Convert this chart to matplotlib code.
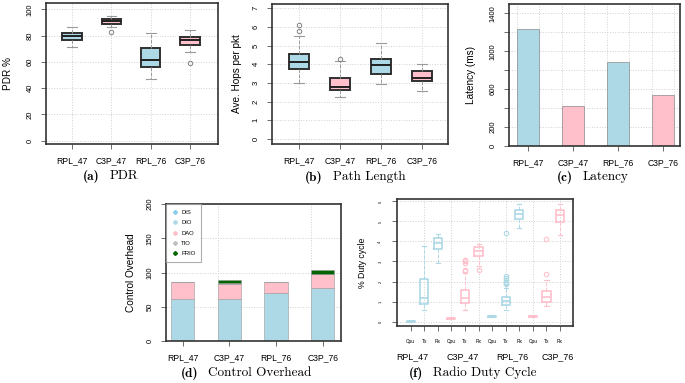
import numpy as np
import matplotlib
matplotlib.use("Agg")
import matplotlib.pyplot as plt
from matplotlib.lines import Line2D

# ---- data ----
protocols = ["RPL_47", "C3P_47", "RPL_76", "C3P_76"]
colors = ["#ADD8E6", "#FFC0CB", "#ADD8E6", "#FFC0CB"]

# (a) PDR %
pdr_lo = [71.0, 86.5, 46.7, 67.2]
pdr_q1 = [76.3, 89.1, 56.1, 72.5]
pdr_med = [79.5, 91.2, 61.6, 77.0]
pdr_q3 = [81.8, 92.4, 70.7, 79.3]
pdr_hi = [86.4, 94.7, 81.6, 84.3]
pdr_out = [[], [83.0], [], [58.8]]

# (b) average hops per packet
hop_lo = [3.00, 2.25, 2.94, 2.58]
hop_q1 = [3.74, 2.62, 3.49, 3.10]
hop_med = [4.14, 2.78, 3.94, 3.24]
hop_q3 = [4.55, 3.24, 4.30, 3.64]
hop_hi = [5.51, 4.20, 5.13, 4.01]
hop_out = [[5.78, 6.10], [4.31], [], []]

# (c) latency (ms)
latency = [1231, 422, 890, 535]

# (d) control overhead, stacked
ovh_dis = [0.5, 0.5, 0.5, 0.5]
ovh_dio = [60.3, 60.3, 70.1, 76.9]
ovh_dao = [24.8, 22.9, 15.0, 19.9]
ovh_tio = [0.0, 1.0, 0.0, 1.0]
ovh_prio = [0.0, 4.8, 0.0, 5.0]
ovh_labels = ["DIS", "DIO", "DAO", "TIO", "PRIO"]
ovh_colors = ["#87CEEB", "#ADD8E6", "#FFC0CB", "#BEBEBE", "#006400"]

# (f) radio duty cycle, 3 boxes per protocol
dc_names = ["Cpu", "Tx", "Rx"] * 4
dc_lo = [0.00, 0.59, 2.95, 0.13, 0.59, 2.79, 0.22, 0.56, 4.65, 0.22, 0.79, 4.32]
dc_q1 = [0.00, 0.89, 3.61, 0.15, 0.94, 3.28, 0.24, 0.81, 5.10, 0.24, 0.97, 4.95]
dc_med = [0.02, 1.19, 3.91, 0.17, 1.19, 3.50, 0.26, 1.02, 5.35, 0.26, 1.22, 5.31]
dc_q3 = [0.04, 2.11, 4.16, 0.19, 1.58, 3.70, 0.28, 1.22, 5.59, 0.28, 1.55, 5.59]
dc_hi = [0.05, 3.78, 4.36, 0.21, 2.43, 3.86, 0.30, 1.68, 5.89, 0.30, 2.06, 5.89]
dc_out = [[], [], [], [], [2.55, 2.60, 2.95, 3.00, 3.05], [2.59], [],
          [1.90, 1.95, 2.00, 2.10, 2.20, 2.30, 4.44], [], [], [2.38, 4.13], []]

W, H = 685, 383
plt.rcParams["font.family"] = ["Liberation Sans", "DejaVu Sans"]
fig = plt.figure(figsize=(W / 100, H / 100), dpi=100)


def ax_at(x0, y0, x1, y1):
    return fig.add_axes([x0 / W, 1 - y1 / H, (x1 - x0) / W, (y1 - y0) / H])


def rstyle(ax, ylab, ylab_x, x0, x1, ysize=5.5):
    for s in ax.spines.values():
        s.set_color("#333333")
        s.set_linewidth(1.2)
    ax.tick_params(direction="out", length=3.5, width=0.6, color="#555555",
                   labelsize=6.2, pad=5.5)
    ax.tick_params(axis="y", labelsize=ysize)
    for lab in ax.get_yticklabels():
        lab.set_rotation(90)
        lab.set_va("center")
    ax.set_axisbelow(True)
    ax.set_ylabel(ylab, fontsize=7.2)
    ax.yaxis.set_label_coords((ylab_x - x0) / (x1 - x0), 0.5)


def caption(xr, y, tag, text):
    fig.text(xr / W, 1 - y / H, tag, family="cmb10", fontsize=9.5,
             ha="right", va="center")
    fig.text((xr + 10) / W, 1 - y / H, text, family="cmr10", fontsize=9.5,
             ha="left", va="center")


def make_stats(lo, q1, med, q3, hi, out):
    return [dict(whislo=a, q1=b, med=c, q3=d, whishi=e, fliers=f)
            for a, b, c, d, e, f in zip(lo, q1, med, q3, hi, out)]


def filled_box(ax, stats):
    res = ax.bxp(stats, positions=range(1, 5), widths=0.5, patch_artist=True,
                 boxprops=dict(edgecolor="#303030", linewidth=1.4),
                 medianprops=dict(color="#202020", linewidth=1.4),
                 whiskerprops=dict(color="#9a9a9a", linewidth=0.7, linestyle="--"),
                 capprops=dict(color="#9a9a9a", linewidth=0.8),
                 flierprops=dict(marker="o", markerfacecolor="none",
                                 markeredgecolor="#808080", markersize=3.2,
                                 markeredgewidth=0.7))
    for patch, c in zip(res["boxes"], colors):
        patch.set_facecolor(c)


grid_kw = dict(color="#d0d0d0", linestyle=":", linewidth=0.7)

# ---- (a) PDR ----
axa = ax_at(46, 3, 218, 144)
axa.grid(True, **grid_kw)
filled_box(axa, make_stats(pdr_lo, pdr_q1, pdr_med, pdr_q3, pdr_hi, pdr_out))
axa.set_xticks(range(1, 5), protocols)
axa.set_yticks(range(0, 101, 20))
axa.set_xlim(0.33, 4.72)
axa.set_ylim(-2.5, 104.8)
rstyle(axa, "PDR %", 13, 46, 218)
caption(100, 176, "(a)", "PDR")

# ---- (b) Path length ----
axb = ax_at(272, 4, 448, 144)
axb.grid(True, **grid_kw)
filled_box(axb, make_stats(hop_lo, hop_q1, hop_med, hop_q3, hop_hi, hop_out))
axb.set_xticks(range(1, 5), protocols)
axb.set_yticks(range(0, 8))
axb.set_xlim(0.34, 4.63)
axb.set_ylim(-0.27, 7.23)
rstyle(axb, "Ave. Hops per pkt", 242, 272, 448)
caption(323, 177, "(b)", "Path Length")

# ---- (c) Latency ----
axc = ax_at(509, 4, 680, 146)
axc.grid(True, axis="y", **grid_kw)
for xv in np.arange(0.75, 4.3, 0.5):
    axc.axvline(xv, **grid_kw, zorder=0)
axc.bar(range(1, 5), latency, width=0.5, color=colors, edgecolor="#8a8a8a",
        linewidth=0.5, zorder=2)
axc.set_xticks(range(1, 5), protocols)
axc.set_yticks(range(0, 1401, 200),
               ["0", "200", "", "600", "", "1000", "", "1400"])
axc.set_xlim(0.58, 4.38)
axc.set_ylim(0, 1500)
rstyle(axc, "Latency (ms)", 476, 509, 680)
caption(573, 177, "(c)", "Latency")

# ---- (d) Control overhead ----
axd = ax_at(166, 204, 341, 341)
axd.grid(True, axis="y", **grid_kw)
for xv in [1.75, 3.75]:
    axd.axvline(xv, **grid_kw, zorder=0)
bottom = np.zeros(4)
for vals, lab, c in zip([ovh_dis, ovh_dio, ovh_dao, ovh_tio, ovh_prio],
                        ovh_labels, ovh_colors):
    axd.bar(range(1, 5), vals, bottom=bottom, width=0.5, color=c,
            edgecolor="#9a9a9a", linewidth=0.4, zorder=2)
    bottom += np.array(vals)
axd.set_xticks(range(1, 5), protocols)
axd.set_yticks(range(0, 201, 50))
axd.set_xlim(0.64, 4.39)
axd.set_ylim(0, 200)
rstyle(axd, "Control Overhead", 136, 166, 341)
handles = [Line2D([], [], marker="P", ls="", color=c, markersize=2.5)
           for c in ovh_colors]
leg = axd.legend(handles, ovh_labels, loc="upper left", fontsize=4.2,
                 frameon=True, fancybox=False, borderaxespad=0,
                 labelspacing=0.9, handlelength=1.0, handletextpad=0.6,
                 borderpad=1.0)
leg.get_frame().set_edgecolor("#9a9a9a")
leg.get_frame().set_linewidth(0.8)
caption(198, 373, "(d)", "Control Overhead")

# ---- (f) Radio duty cycle ----
axf = ax_at(397, 199, 573, 326)
axf.grid(True, axis="y", **grid_kw)
for xv in range(2, 13, 2):
    axf.axvline(xv, **grid_kw, zorder=0)
dc_stats = make_stats(dc_lo, dc_q1, dc_med, dc_q3, dc_hi, dc_out)
for g, c in [(0, "#ADD8E6"), (1, "#FFC0CB"), (2, "#ADD8E6"), (3, "#FFC0CB")]:
    idx = range(3 * g, 3 * g + 3)
    axf.bxp([dc_stats[i] for i in idx], positions=[i + 1 for i in idx],
            widths=0.6,
            boxprops=dict(color=c, linewidth=1.2),
            medianprops=dict(color=c, linewidth=1.2),
            whiskerprops=dict(color=c, linewidth=0.7, linestyle="--"),
            capprops=dict(color=c, linewidth=0.8),
            flierprops=dict(marker="o", markerfacecolor="none",
                            markeredgecolor=c, markersize=3.2,
                            markeredgewidth=0.8))
axf.set_xticks(range(1, 13), dc_names)
axf.set_yticks(range(0, 7))
axf.set_xlim(0.0, 12.95)
axf.set_ylim(-0.22, 6.12)
rstyle(axf, "", 367, 397, 573, ysize=3)
axf.set_ylabel("% Duty cycle", fontsize=6.3)
axf.yaxis.set_label_coords((367 - 397) / 176, 0.5)
axf.tick_params(axis="x", labelsize=3.5, pad=6)
axf.tick_params(axis="y", pad=7)
for name, xv in zip(protocols, [1.1, 4.85, 8.5, 11.8]):
    axf.text(xv, -0.24, name, transform=axf.get_xaxis_transform(),
             ha="center", va="center", fontsize=6.4)
caption(423, 373, "(f)", "Radio Duty Cycle")

fig.savefig("out.png", dpi=100)
